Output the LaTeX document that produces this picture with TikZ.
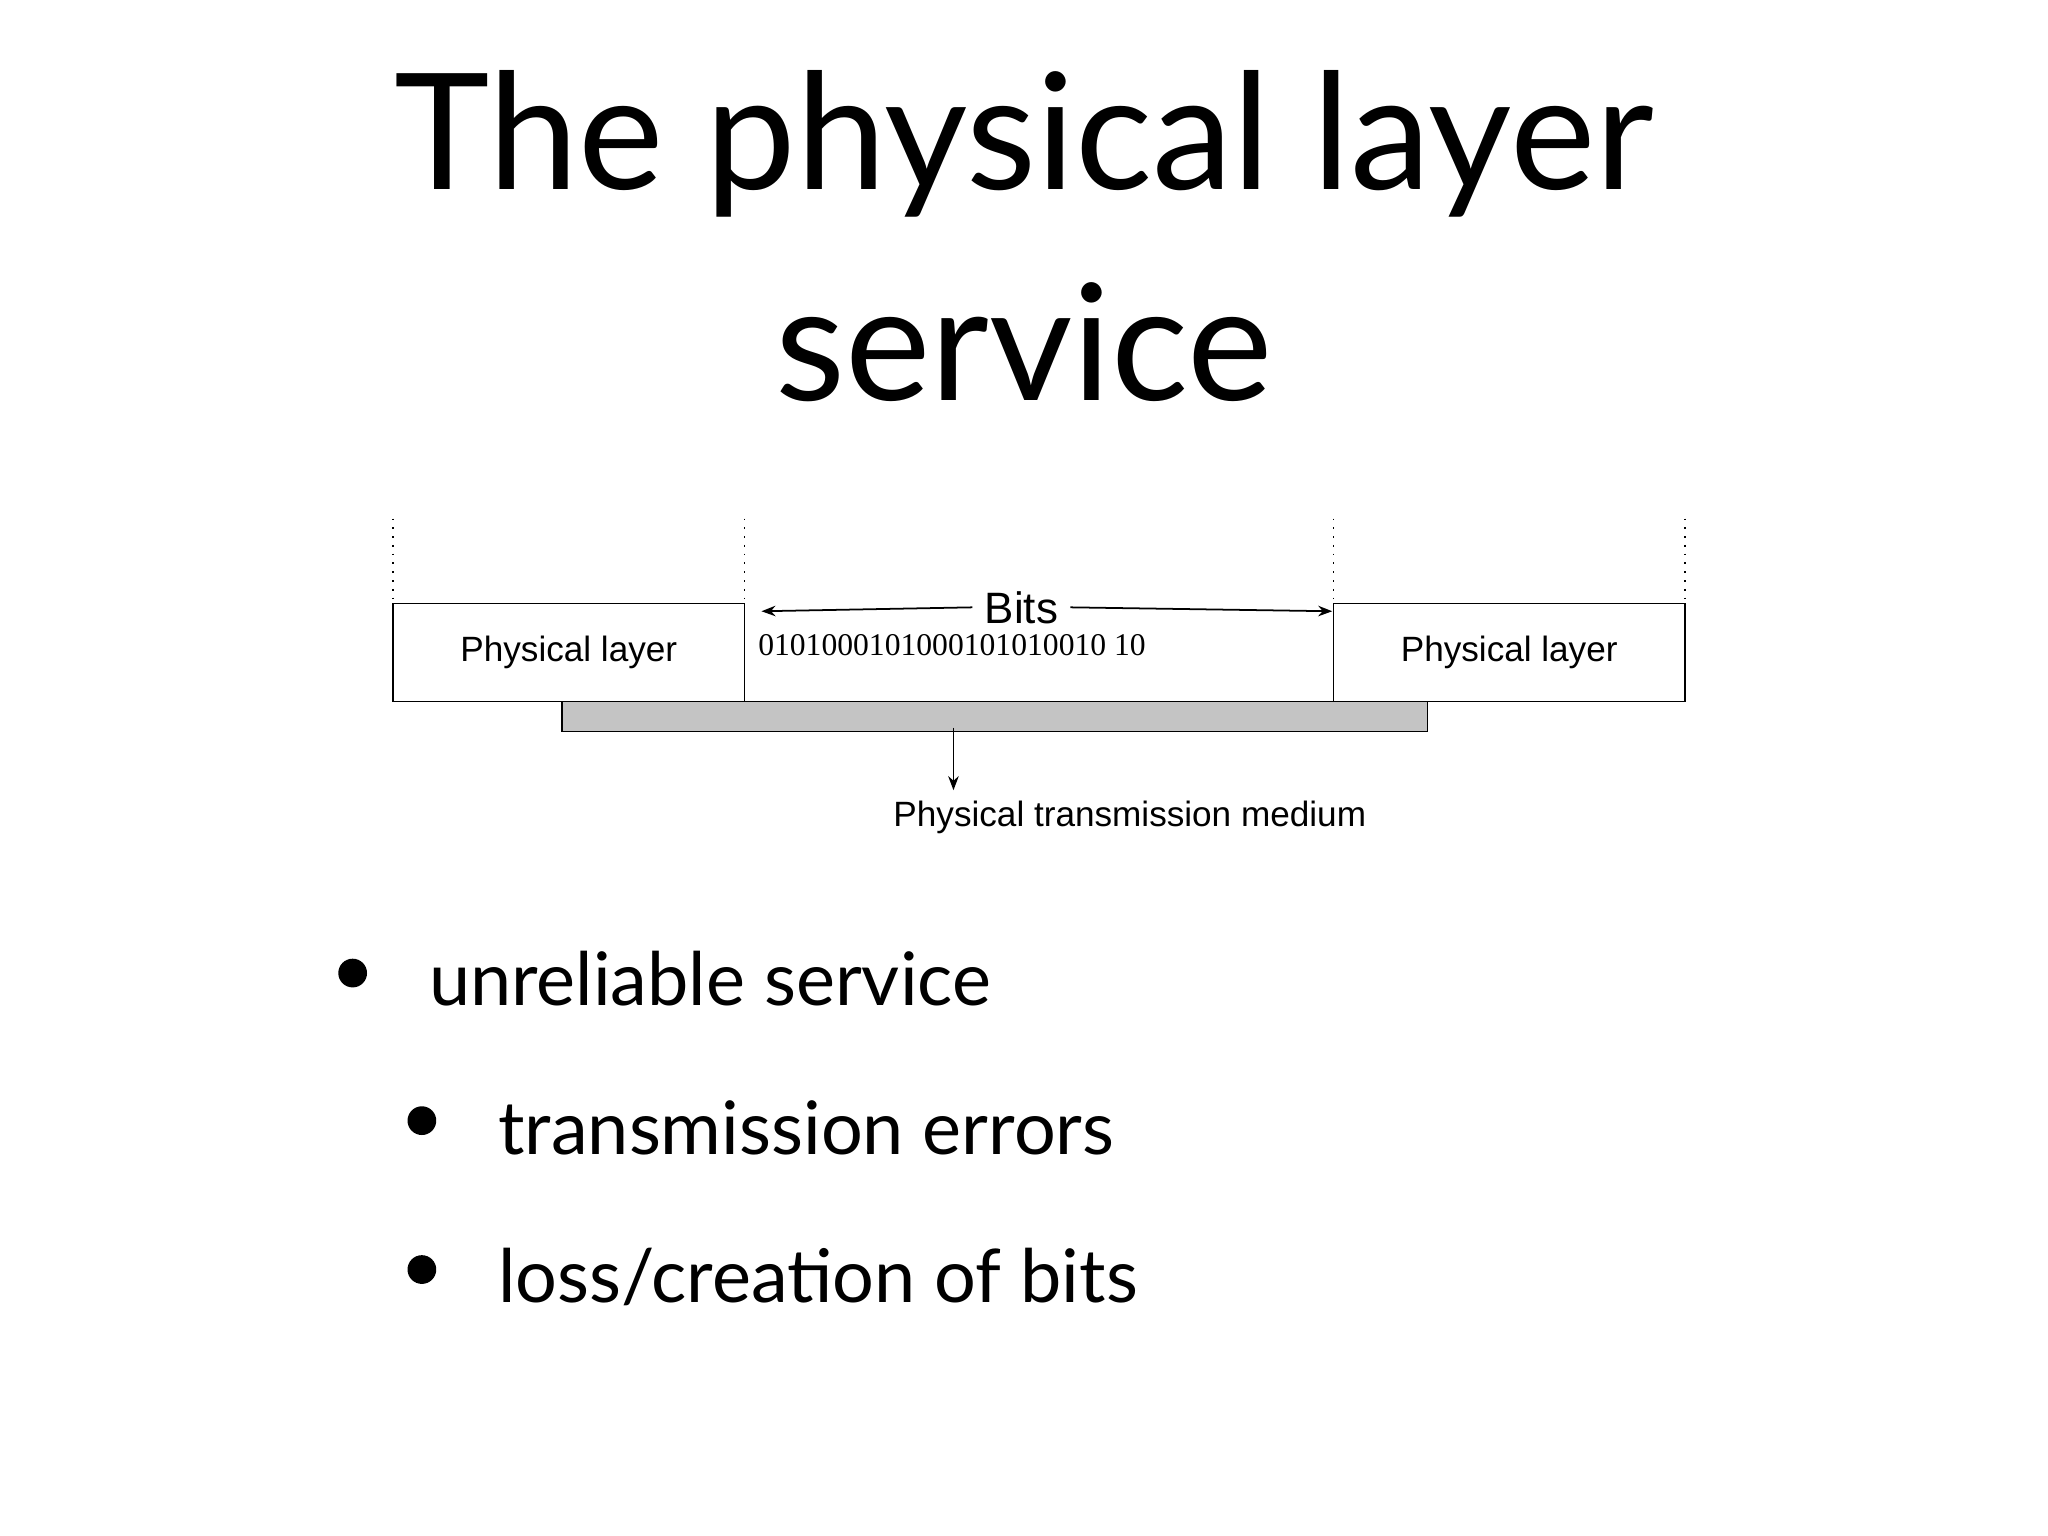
\documentclass[tikz,border=0pt]{standalone}
\usepackage{fontspec}
\setmainfont{Lato}
\newfontfamily\arialf{Liberation Sans}
\newfontfamily\timesf{Liberation Serif}
\usetikzlibrary{arrows.meta}
\begin{document}
\begin{tikzpicture}[x=0.01306cm,y=-0.01306cm,
  lbl/.style={font=\arialf\fontsize{10}{12}\selectfont},
  box/.style={draw,line width=0.5pt},
  dotv/.style={dotted,line width=0.5pt},
  arr/.style={-{Stealth[length=4pt,width=3pt]},line width=0.5pt},
  bul/.style={anchor=base west,font=\fontsize{21}{25}\selectfont}]
\useasboundingbox (0,0) rectangle (1568,1176);
\node[font=\fontsize{46}{50}\selectfont] (t1) at (784,110) {The physical layer};
\node[font=\fontsize{46}{50}\selectfont] (t2) at (784,262) {service};
% boxes
\node[box,minimum width=269*0.01306cm,minimum height=75*0.01306cm,lbl] (L) at (435.5,499.5) {Physical layer};
\node[box,minimum width=269*0.01306cm,minimum height=75*0.01306cm,lbl] (R) at (1155.5,499.5) {Physical layer};
\draw[line width=0.5pt] (L.south east) -- (R.south west);
\draw[box,fill=black!23] (430,537) rectangle (1093,560);
\coordinate (mtop) at (730,557);
\coordinate (mbot) at (730,605);
\draw[arr] (mtop) -- (mbot);
\node[lbl] (med) at (865,626) {Physical transmission medium};
\foreach \x in {301,570,1021,1290} \draw[dotv] (\x,397) -- (\x,462);
\node[font=\arialf\fontsize{12.5}{14}\selectfont] (bits) at (782,465) {Bits};
\coordinate (a1) at (583,468);
\coordinate (a2) at (1020,468);
\draw[arr] (bits.west) -- (a1);
\draw[arr] (bits.east) -- (a2);
\node[font=\timesf\fontsize{9}{11}\selectfont,anchor=west,inner sep=0] (dig) at (580,494) {0101000101000101010010 10};
% bullets
\node[circle,fill,inner sep=0,minimum size=22*0.01306cm] (b1) at (270,745) {};
\node[bul] (x1) at (319,770) {unreliable service};
\node[circle,fill,inner sep=0,minimum size=22*0.01306cm] (b2) at (323,858) {};
\node[bul] (x2) at (372,884) {transmission errors};
\node[circle,fill,inner sep=0,minimum size=22*0.01306cm] (b3) at (323,972) {};
\node[bul] (x3) at (372,997) {loss/creation of bits};
\end{tikzpicture}
\end{document}
